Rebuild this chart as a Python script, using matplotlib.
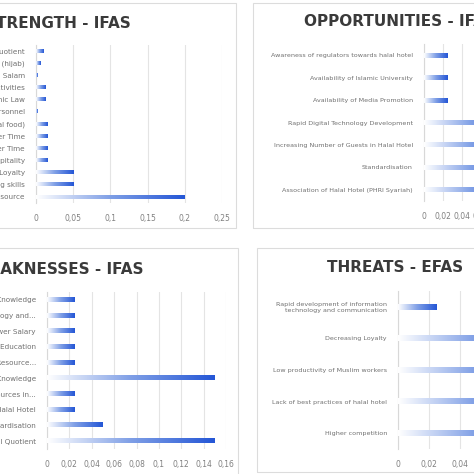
import matplotlib
matplotlib.use("Agg")
import matplotlib.pyplot as plt
import numpy as np
from matplotlib.patches import Rectangle
from matplotlib.colors import LinearSegmentedColormap

# ---- data ----
s_labels = ["Emotional Quotient", "Dress code (hijab)", "Greeting Salam", "Religious Activities",
            "Knowledge of Islamic Law", "Muslim Personnel", "Halal Food (halal food)",
            "Flexibility of Prayer Time", "Discipline of Prayer Time", "Islamic Hospitality",
            "Employee Loyalty", "Communicating skills", "Human Resource"]
s_values = [0.01, 0.006, 0.002, 0.013, 0.013, 0.002, 0.016, 0.016, 0.016, 0.016, 0.05, 0.05, 0.2]
s_ticks = [0, 0.05, 0.1, 0.15, 0.2, 0.25]

o_labels = ["Awareness of regulators towards halal hotel", "Availability of Islamic University",
            "Availability of Media Promotion", "Rapid Digital Technology Development",
            "Increasing Number of Guests in Halal Hotel", "Standardisation",
            "Association of Halal Hotel (PHRI Syariah)"]
o_values = [0.025, 0.025, 0.025, 0.1, 0.1, 0.1, 0.1]
o_ticks = [0, 0.02, 0.04, 0.06, 0.08, 0.1, 0.12]

w_labels = ["Lack of Islamic Knowledge", "Lack of Technology and...", "Lower Salary",
            "Lack of Education", "Lack of Human Resource...", "Lack of Halal Knowledge",
            "Limited Resources in...", "Lack of Halal Hotel", "Lack of Standardisation",
            "Low Spiritual Quotient"]
w_values = [0.025, 0.025, 0.025, 0.025, 0.025, 0.15, 0.025, 0.025, 0.05, 0.15]
w_ticks = [0, 0.02, 0.04, 0.06, 0.08, 0.1, 0.12, 0.14, 0.16]

t_labels = ["Rapid development of information\ntechnology and communication", "Decreasing Loyalty",
            "Low productivity of Muslim workers", "Lack of best practices of halal hotel",
            "Higher competition"]
t_values = [0.025, 0.1, 0.1, 0.1, 0.1]
t_ticks = [0, 0.02, 0.04, 0.06, 0.08, 0.1, 0.12]

W = H = 474
fig = plt.figure(figsize=(4.74, 4.74), dpi=100)
fig.patch.set_facecolor("white")

cmap = LinearSegmentedColormap.from_list("g", ["#ffffff", "#7f9fe6", "#2456d6"])

def box(x0, y0, x1, y1):
    fig.patches.append(Rectangle((x0 / W, 1 - y1 / H), (x1 - x0) / W, (y1 - y0) / H,
                                 transform=fig.transFigure, fill=False, ec="#dcdcdc", lw=0.8))

def panel(x0, x1, xmax, ytop, ybot, labels, values, ticks, title, tx, ty, fs=5.2, bh=0.26):
    ax = fig.add_axes([x0 / W, 1 - ybot / H, (x1 - x0) / W, (ybot - ytop) / H])
    n = len(labels)
    y = np.arange(n)
    grad = np.linspace(0, 1, 256).reshape(1, -1)
    for yi, v in zip(y, values):
        ax.imshow(grad, cmap=cmap, aspect="auto", extent=(0, v, yi - bh / 2, yi + bh / 2), zorder=3)
    ax.set_xlim(0, xmax)
    ax.set_ylim(n - 0.5, -0.5)
    ax.set_yticks(y)
    ax.set_yticklabels(labels, fontsize=fs, color="#707070")
    ax.set_xticks(ticks)
    ax.set_xticklabels([("%g" % t).replace(".", ",") for t in ticks], fontsize=5.5, color="#808080")
    ax.tick_params(length=0, pad=8)
    ax.grid(axis="x", color="#e4e4e4", lw=0.8)
    ax.set_axisbelow(True)
    for s in ["top", "right", "bottom"]:
        ax.spines[s].set_visible(False)
    ax.spines["left"].set_color("#d8d8d8")
    fig.text(tx / W, 1 - ty / H, title, fontsize=11, color="#3a3a3a", ha="center", va="center",
             fontweight="bold")
    return ax

box(-10, 3, 236, 228)
box(253, 3, 490, 228)
box(-10, 248, 238, 490)
box(257, 248, 490, 472)

panel(36, 222, 0.25, 45, 203, s_labels, s_values, s_ticks, "STRENGTH - IFAS", 58, 23)
panel(424, 538, 0.12, 44, 201, o_labels, o_values, o_ticks, "OPPORTUNITIES - IFAS", 400, 21, fs=4.6, bh=0.22)
panel(47, 226, 0.16, 292, 449, w_labels, w_values, w_ticks, "WEAKNESSES - IFAS", 58, 269)
panel(398, 584, 0.12, 291, 449, t_labels, t_values, t_ticks, "THREATS - EFAS", 395, 268, fs=4.6, bh=0.18)

fig.savefig("out.png", dpi=100)
